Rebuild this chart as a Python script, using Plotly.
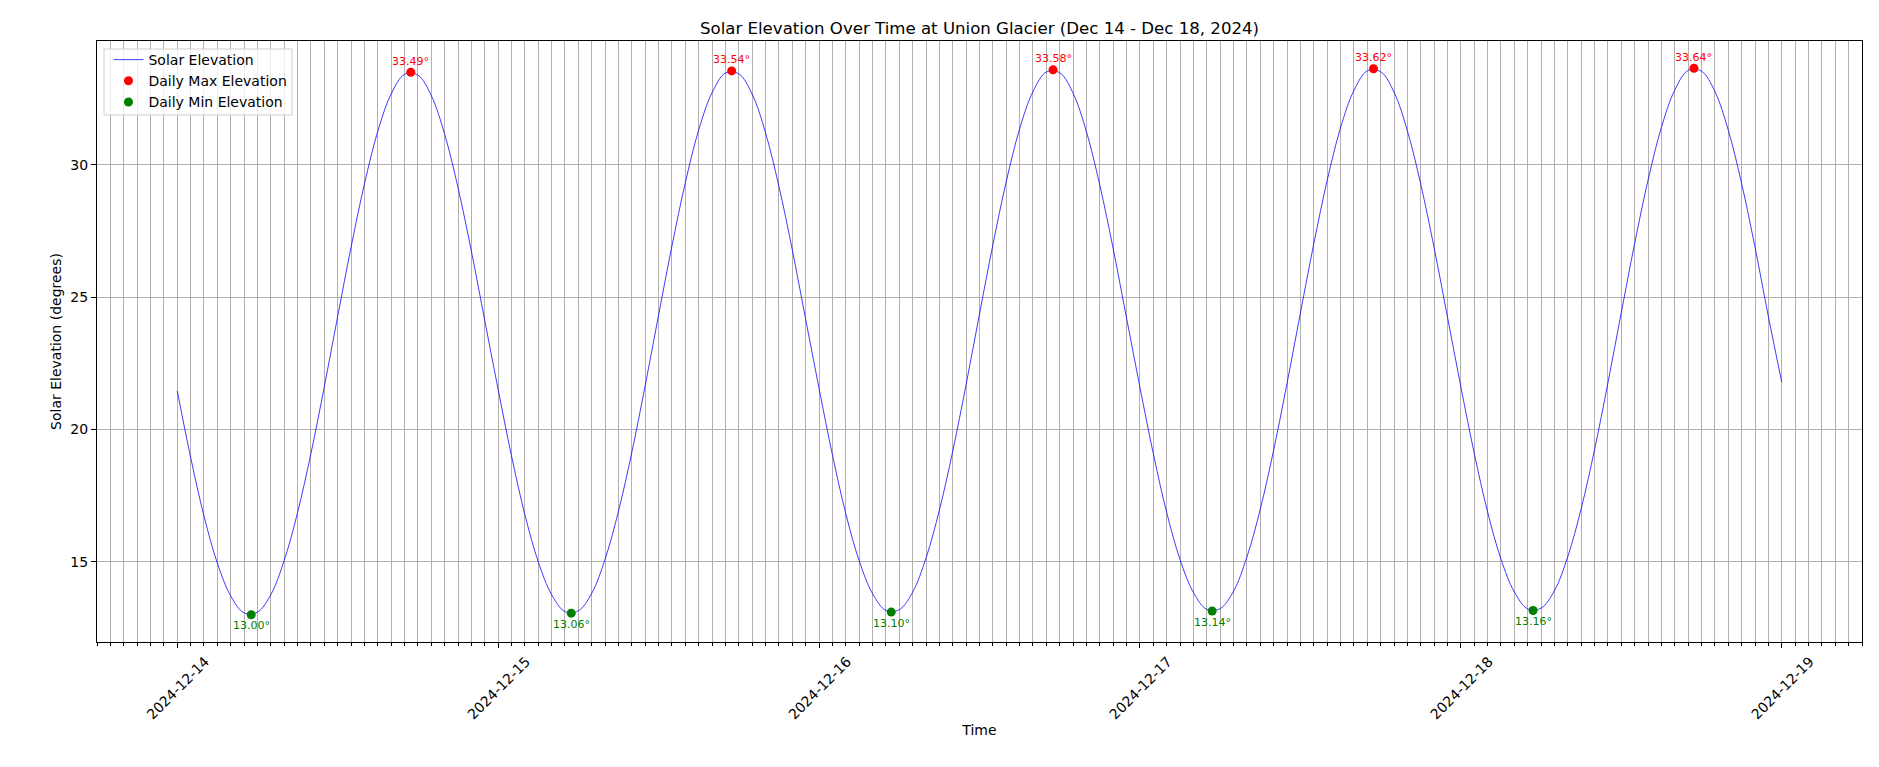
import pandas as pd
import plotly.graph_objects as go

# hourly solar elevation (degrees)
elev_dec14 = [21.46, 18.95, 16.73, 14.95, 13.71, 13.07, 13.10, 13.76, 15.05, 16.86, 19.09, 21.61,
              24.27, 26.88, 29.27, 31.26, 32.67, 33.41, 33.38, 32.61, 31.15, 29.13, 26.73, 24.11]
elev_dec15 = [21.51, 19.00, 16.78, 15.00, 13.76, 13.12, 13.15, 13.81, 15.10, 16.91, 19.14, 21.66,
              24.32, 26.93, 29.32, 31.31, 32.72, 33.46, 33.43, 32.66, 31.20, 29.18, 26.78, 24.16]
elev_dec16 = [21.55, 19.04, 16.82, 15.04, 13.80, 13.16, 13.19, 13.85, 15.14, 16.95, 19.18, 21.70,
              24.36, 26.97, 29.36, 31.35, 32.76, 33.50, 33.47, 32.70, 31.24, 29.22, 26.82, 24.20]
elev_dec17 = [21.59, 19.08, 16.86, 15.08, 13.84, 13.20, 13.23, 13.89, 15.18, 16.99, 19.22, 21.74,
              24.40, 27.01, 29.40, 31.39, 32.80, 33.54, 33.51, 32.74, 31.28, 29.26, 26.86, 24.24]
elev_dec18 = [21.61, 19.10, 16.88, 15.10, 13.86, 13.22, 13.25, 13.91, 15.20, 17.01, 19.24, 21.76,
              24.42, 27.03, 29.42, 31.41, 32.82, 33.56, 33.53, 32.76, 31.30, 29.28, 26.88, 24.26]
elev_dec19 = [21.78]

max_times = ["2024-12-14 17:28", "2024-12-15 17:28", "2024-12-16 17:30", "2024-12-17 17:28", "2024-12-18 17:26"]
max_vals = [33.49, 33.54, 33.58, 33.62, 33.64]
min_times = ["2024-12-14 05:32", "2024-12-15 05:28", "2024-12-16 05:24", "2024-12-17 05:24", "2024-12-18 05:24"]
min_vals = [13.00, 13.06, 13.10, 13.14, 13.16]

tick_dates = ["2024-12-14", "2024-12-15", "2024-12-16", "2024-12-17", "2024-12-18", "2024-12-19"]

elevation = elev_dec14 + elev_dec15 + elev_dec16 + elev_dec17 + elev_dec18 + elev_dec19
times = pd.date_range("2024-12-14 00:00", periods=len(elevation), freq="h")

fig = go.Figure()

fig.add_trace(go.Scatter(
    x=times, y=elevation, mode="lines", name="Solar Elevation",
    line=dict(color="rgba(0,0,255,0.85)", width=0.9, shape="spline", smoothing=1.0),
))
fig.add_trace(go.Scatter(
    x=pd.to_datetime(max_times), y=max_vals, mode="markers", name="Daily Max Elevation",
    marker=dict(color="red", size=9),
))
fig.add_trace(go.Scatter(
    x=pd.to_datetime(min_times), y=min_vals, mode="markers", name="Daily Min Elevation",
    marker=dict(color="green", size=9),
))

# value labels above / below the extremes
for t, v in zip(max_times, max_vals):
    fig.add_annotation(x=t, y=v, text=f"{v:.2f}°", showarrow=False, yshift=11,
                       font=dict(color="red", size=11))
for t, v in zip(min_times, min_vals):
    fig.add_annotation(x=t, y=v, text=f"{v:.2f}°", showarrow=False, yshift=-11,
                       font=dict(color="green", size=11))

# legend frame (plotly's own legend box pads more than the original)
fig.add_shape(type="rect", xref="paper", yref="paper",
              x0=0.004, x1=0.1105, y0=0.877, y1=0.9867,
              fillcolor="rgba(255,255,255,0.8)", line=dict(color="#d0d0d0", width=1),
              layer="above")

# page body adds an 8px offset, so the figure is sized/margined to compensate
grid = "#b0b0b0"
fig.update_layout(
    width=1871, height=759,
    paper_bgcolor="white", plot_bgcolor="white",
    font=dict(family="DejaVu Sans", size=14, color="black"),
    margin=dict(l=89, r=17, t=33, b=125, autoexpand=False),
    title=dict(text="Solar Elevation Over Time at Union Glacier (Dec 14 - Dec 18, 2024)",
               x=0.5, xref="paper", xanchor="center", y=0.9736, yanchor="middle",
               font=dict(size=16.6)),
    showlegend=True,
    legend=dict(x=0.0065, y=0.995, xanchor="left", yanchor="top",
                bgcolor="rgba(0,0,0,0)", borderwidth=0,
                font=dict(size=14), itemwidth=30, tracegroupgap=0),
)

fig.update_xaxes(
    type="date",
    range=["2024-12-13 18:00", "2024-12-19 06:00"],
    tickvals=pd.to_datetime(tick_dates), ticktext=tick_dates,
    tickangle=-45, ticklabelshift=28,
    ticks="outside", ticklen=5, tickcolor="black",
    showgrid=True, gridcolor=grid, gridwidth=1,
    minor=dict(dtick=3600000, showgrid=True, gridcolor=grid, gridwidth=1,
               ticks="outside", ticklen=3, tickcolor="black"),
    showline=True, linecolor="black", linewidth=1, mirror=True,
    title=dict(text="Time", font=dict(size=14), standoff=3),
    zeroline=False,
)
fig.update_yaxes(
    range=[11.97, 34.67],
    tickvals=[15, 20, 25, 30],
    ticks="outside", ticklen=5, tickcolor="black",
    showgrid=True, gridcolor=grid, gridwidth=1,
    showline=True, linecolor="black", linewidth=1, mirror=True,
    title=dict(text="Solar Elevation (degrees)", font=dict(size=14), standoff=5),
    zeroline=False,
)

fig.write_html("out.html")
